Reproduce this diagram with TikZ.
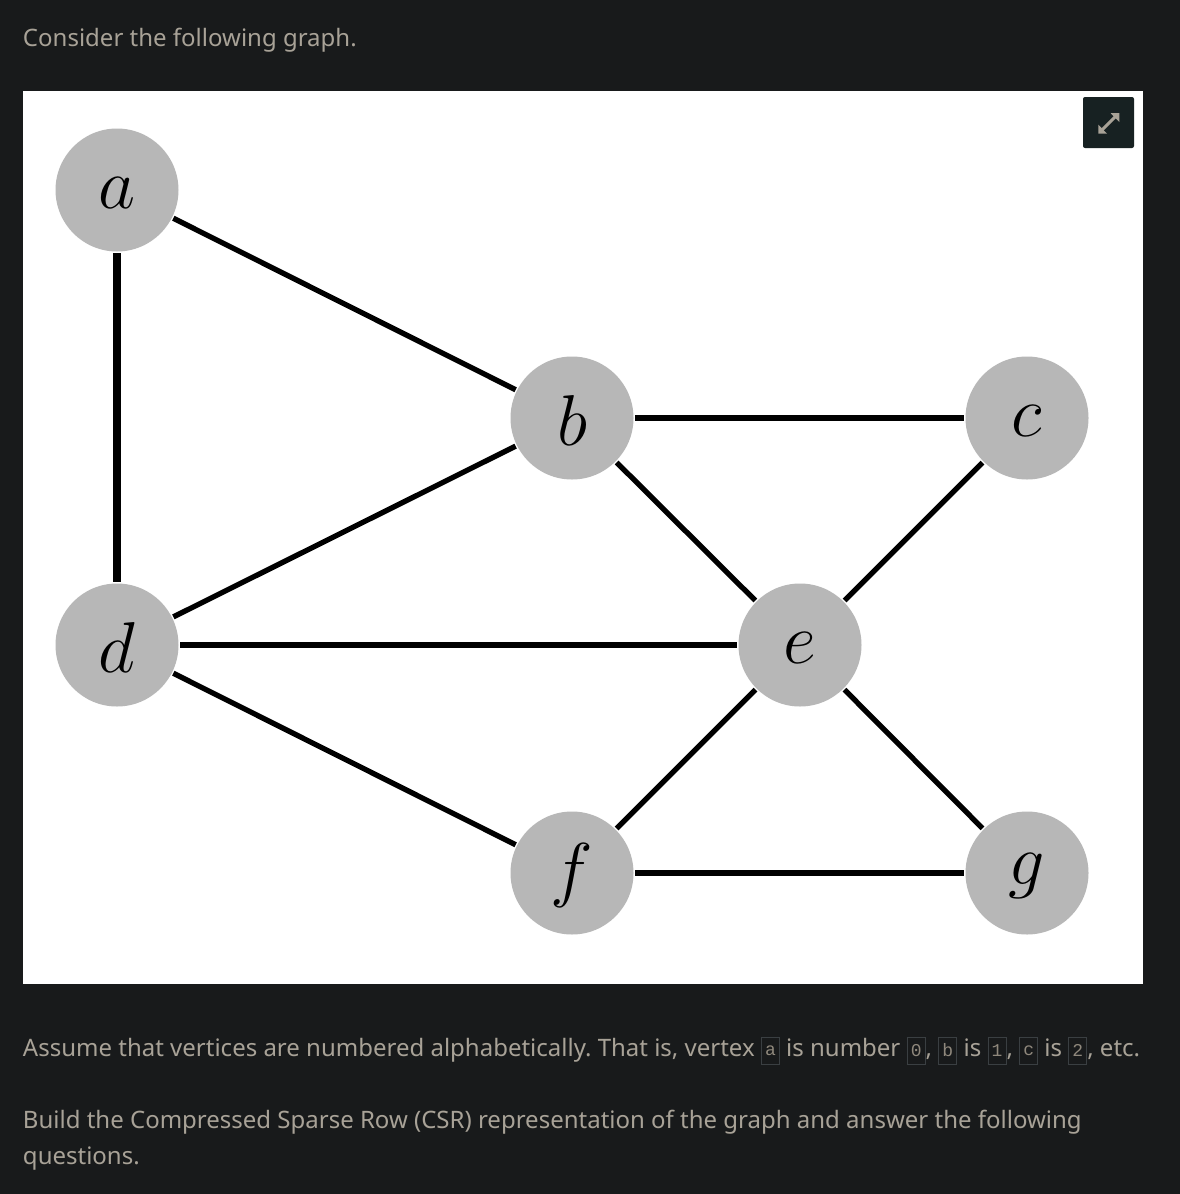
\documentclass[tikz,border=0pt]{standalone}
\usepackage{fix-cm}
\usepackage{fontspec}
\setmainfont{Noto Sans}
\setmonofont{Liberation Mono}
\definecolor{pagebg}{HTML}{181A1B}
\definecolor{bodytext}{HTML}{A8A297}
\definecolor{codetext}{HTML}{8F887C}
\definecolor{codeline}{HTML}{3A3F42}
\definecolor{vertexfill}{HTML}{B7B7B7}
\definecolor{btnfill}{HTML}{172122}
\newcommand{\codechip}[1]{{\setlength{\fboxsep}{0pt}\setlength{\fboxrule}{1pt}\raisebox{-7.5pt}{\fcolorbox{codeline}{pagebg}{\parbox[b][26pt][c]{17pt}{\centering\fontsize{18}{18}\selectfont\ttfamily\color{codetext}#1}}}}}
\newcommand{\vlabel}[1]{\vbox{\kern5pt\hbox{\fontsize{72}{72}\selectfont$#1$}}}
\tikzset{
  vertex/.style={circle,fill=vertexfill,minimum size=123pt,inner sep=0pt,outer sep=1.5pt,text=black},
  edge/.style={draw=black,line width=5.3pt},
  edgethick/.style={draw=black,line width=7.5pt},
  edgemid/.style={draw=black,line width=6.5pt},
  para/.style={anchor=base west,inner sep=0pt,outer sep=0pt,text=bodytext,font=\fontsize{24}{24}\selectfont\frenchspacing},
}
\begin{document}
\begin{tikzpicture}[x=1pt,y=-1pt]
\useasboundingbox (0,0) rectangle (1180,1194);
\fill[pagebg] (0,0) rectangle (1180,1194);
\fill[white] (23,91) rectangle (1143,984);
\fill[btnfill,rounded corners=2pt] (1083,97) rectangle (1134,148);
\fill[bodytext] (1119.3,113) -- (1119.3,122) -- (1110.5,113) -- cycle;
\fill[bodytext] (1098.3,133.7) -- (1098.3,124.7) -- (1107.1,133.7) -- cycle;
\draw[bodytext,line width=3pt] (1102,130) -- (1115.5,116.5);
\node[vertex] (a) at (117,190) {\vlabel{a}};
\node[vertex] (b) at (572,418) {\vlabel{b}};
\node[vertex] (c) at (1027,418) {\vlabel{c}};
\node[vertex] (d) at (117,645) {\vlabel{d}};
\node[vertex] (e) at (800,645) {\vlabel{e}};
\node[vertex] (f) at (572,873) {\vlabel{f}};
\node[vertex] (g) at (1027,873) {\vlabel{g}};
\draw[edgethick] (a) -- (d);
\draw[edge] (a) -- (b);
\draw[edge] (b) -- (c);
\draw[edge] (b) -- (d);
\draw[edge] (b) -- (e);
\draw[edge] (c) -- (e);
\draw[edgemid] (d) -- (e);
\draw[edge] (d) -- (f);
\draw[edge] (e) -- (f);
\draw[edge] (e) -- (g);
\draw[edge] (f) -- (g);
\node[para] (t1) at (23,46) {Consider the following graph.};
\node[para] (t2) at (23,1056) {Assume that vertices are numbered alphabetically. That is, vertex \codechip{a} is number \codechip{0}, \codechip{b} is \codechip{1}, \codechip{c} is \codechip{2}, etc.};
\node[para] (t3) at (23,1128) {Build the Compressed Sparse Row (CSR) representation of the graph and answer the following};
\node[para] (t4) at (23,1164) {questions.};
\end{tikzpicture}
\end{document}
